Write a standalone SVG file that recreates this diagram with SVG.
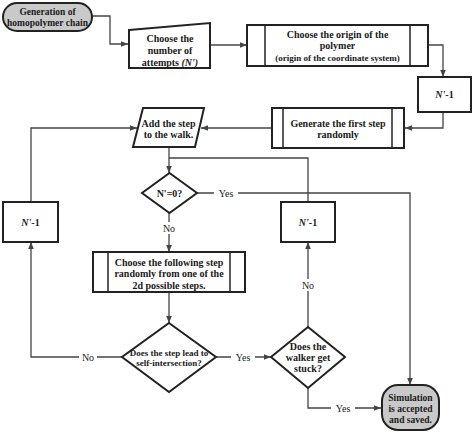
<svg xmlns="http://www.w3.org/2000/svg" width="474" height="438" viewBox="0 0 474 438">
<defs>
<marker id="ah" viewBox="0 0 10 10" refX="10" refY="5" markerWidth="7" markerHeight="7" markerUnits="userSpaceOnUse" orient="auto">
<path d="M0,1 L10,5 L0,9 Z" fill="#444"/>
</marker>
</defs>
<style>
.s{fill:#fff;stroke:#222;stroke-width:2}
.g{fill:#c9c9c9;stroke:#222;stroke-width:2}
.i{fill:none;stroke:#222;stroke-width:1.5}
.c{fill:none;stroke:#444;stroke-width:1.3}
text{font-family:"Liberation Serif","DejaVu Serif",serif;font-size:10px;fill:#1a1a1a;text-anchor:middle;font-weight:bold}
.sm{font-size:9px}
.t{font-size:9.5px}
.q{font-size:9px}
.lb{font-weight:normal}
</style>
<rect width="474" height="438" fill="#fff"/>
<g id="connectors">
<polyline class="c" points="92,16 110,16 110,44 128,44" marker-end="url(#ah)"/>
<line class="c" x1="210" y1="45" x2="247" y2="45" marker-end="url(#ah)"/>
<polyline class="c" points="428,45 443,45 443,77" marker-end="url(#ah)"/>
<polyline class="c" points="443,112 443,128 405,128" marker-end="url(#ah)"/>
<line class="c" x1="272" y1="128" x2="201" y2="128" marker-end="url(#ah)"/>
<polyline class="c" points="31,202 31,128 137,128" marker-end="url(#ah)"/>
<line class="c" x1="169" y1="147" x2="169" y2="173" marker-end="url(#ah)"/>
<polyline class="c" points="308,202 308,158 169,158"/>
<polyline class="c" points="197,193 410,193 410,385" marker-end="url(#ah)"/>
<line class="c" x1="169" y1="213" x2="169" y2="252" marker-end="url(#ah)"/>
<line class="c" x1="169" y1="292" x2="169" y2="323" marker-end="url(#ah)"/>
<polyline class="c" points="122,357 31,357 31,242" marker-end="url(#ah)"/>
<line class="c" x1="216" y1="357" x2="271" y2="357" marker-end="url(#ah)"/>
<line class="c" x1="308" y1="327" x2="308" y2="242" marker-end="url(#ah)"/>
<polyline class="c" points="308,388 308,408 381,408" marker-end="url(#ah)"/>
<rect x="214" y="187" width="24" height="12" fill="#fff"/>
<text class="lb" x="226" y="197">Yes</text>
<rect x="160" y="222" width="18" height="12" fill="#fff"/>
<text class="lb" x="169" y="232">No</text>
<rect x="79" y="351" width="18" height="12" fill="#fff"/>
<text class="lb" x="88" y="361">No</text>
<rect x="231" y="351" width="24" height="12" fill="#fff"/>
<text class="lb" x="243" y="361">Yes</text>
<rect x="299" y="279" width="18" height="12" fill="#fff"/>
<text class="lb" x="308" y="289">No</text>
<rect x="331" y="402" width="24" height="12" fill="#fff"/>
<text class="lb" x="343" y="412">Yes</text>
</g>
<g id="start">
<rect class="g" x="3" y="3" width="89" height="28" rx="14"/>
<text class="t" x="47.5" y="14.5">Generation of</text>
<text class="t" x="47.5" y="25.5">homopolymer chain</text>
</g>
<g id="attempts">
<polygon class="s" points="129,30 210,23 210,68 129,68"/>
<text x="170" y="42">Choose the</text>
<text x="170" y="54">number of</text>
<text x="170" y="66">attempts <tspan font-style="italic">(N')</tspan></text>
</g>
<g id="origin">
<rect class="s" x="247" y="25" width="181" height="41"/>
<line class="i" x1="265" y1="25" x2="265" y2="66"/>
<line class="i" x1="410" y1="25" x2="410" y2="66"/>
<text x="337.5" y="38">Choose the origin of the</text>
<text x="337.5" y="49">polymer</text>
<text class="sm" x="337.5" y="61">(origin of the coordinate system)</text>
</g>
<g id="n1-top">
<rect class="s" x="418" y="77" width="53" height="35"/>
<text x="444.5" y="98"><tspan font-style="italic">N'</tspan>-1</text>
</g>
<g id="first-step">
<rect class="s" x="272" y="108" width="132" height="40"/>
<line class="i" x1="283" y1="108" x2="283" y2="148"/>
<line class="i" x1="392" y1="108" x2="392" y2="148"/>
<text x="338" y="127">Generate the first step</text>
<text x="338" y="138">randomly</text>
</g>
<g id="add-step">
<polygon class="s" points="143,108 204,108 195,147 133,147"/>
<text x="168.5" y="127">Add the step</text>
<text x="168.5" y="138">to the walk.</text>
</g>
<g id="n-zero">
<polygon class="s" points="169.5,173 197,193 169.5,213 142,193"/>
<text x="169.5" y="197">N'=0?</text>
</g>
<g id="n1-left">
<rect class="s" x="3" y="202" width="55" height="40"/>
<text x="30.5" y="226"><tspan font-style="italic">N'</tspan>-1</text>
</g>
<g id="n1-mid">
<rect class="s" x="281" y="202" width="54" height="40"/>
<text x="308" y="226"><tspan font-style="italic">N'</tspan>-1</text>
</g>
<g id="following">
<rect class="s" x="93" y="252" width="152" height="40"/>
<line class="i" x1="108" y1="252" x2="108" y2="292"/>
<line class="i" x1="230" y1="252" x2="230" y2="292"/>
<text x="169" y="265.5">Choose the following step</text>
<text x="169" y="277">randomly from one of the</text>
<text x="169" y="288.5">2d possible steps.</text>
</g>
<g id="intersect">
<polygon class="s" points="169,323 216,357 169,392 122,357"/>
<text class="q" x="169" y="356">Does the step lead to</text>
<text class="q" x="169" y="366">self-intersection?</text>
</g>
<g id="stuck">
<polygon class="s" points="308,327 345,357 308,388 271,357"/>
<text x="308" y="350">Does the</text>
<text x="308" y="361">walker get</text>
<text x="308" y="372">stuck?</text>
</g>
<g id="end">
<rect class="g" x="382" y="385" width="57" height="45" rx="16"/>
<text class="t" x="410.5" y="401">Simulation</text>
<text class="t" x="410.5" y="412">is accepted</text>
<text class="t" x="410.5" y="423">and saved.</text>
</g>
</svg>
